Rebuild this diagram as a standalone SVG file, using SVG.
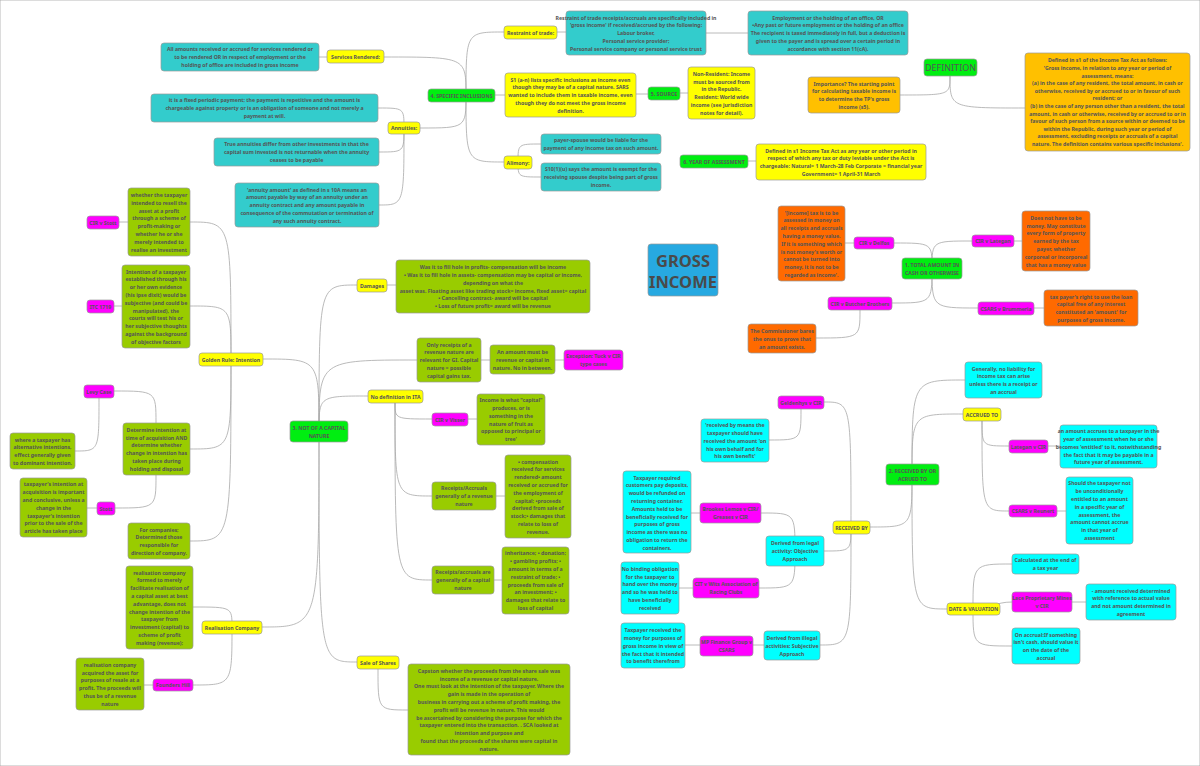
<svg xmlns="http://www.w3.org/2000/svg" width="1200" height="766" viewBox="0 0 1200 766">
<style>
rect{stroke:#9a9a9a;stroke-width:0.7}
.t{fill:#33CCCC}.y{fill:#FFFF00}.g{fill:#00EE11}.l{fill:#99CC00}.m{fill:#FF00FF}.o{fill:#FF6A00}.a{fill:#FFC000}.c{fill:#00FFFF}.b{fill:#27A9E1}
text{font-family:"Noto Sans","Open Sans",sans-serif;font-size:5.2px;font-weight:bold;fill:#555;text-anchor:middle}
#conn path{fill:none;stroke:#a8a8a8;stroke-width:0.8}
</style>
<rect x="0" y="0" width="1200" height="766" fill="#fff" stroke="none"/>
<g id="conn">
<path d="M466 95 C466 32 466 32 504 32M466 95 L505 95M466 95 C466 162 466 162 504 162M466 95 C466 57 466 57 384 57M466 95 C466 128 466 128 420 128"/>
<path d="M557 32H566M706 33H748M636 94H648M680 93H688M319 57H327M748 161H756"/>
<path d="M404 128 C404 108 404 108 378 108M404 128 C404 152 404 152 379 152M404 128 C404 205 404 205 379 205"/>
<path d="M518 162 C518 144 518 144 541 144M518 162 C518 177 518 177 541 177"/>
<path d="M950 76 C950 95 950 95 900 95M950 76 C950 108 950 108 1025 108"/>
<path d="M932 268 C932 243 932 243 894 243M932 268 C932 241 932 241 972 241M932 268 C932 303 932 303 892 303M932 268 C932 308 932 308 978 308"/>
<path d="M845 243H854M1014 241H1022M1034 308H1044M860 310 C860 338 860 338 816 338"/>
<path d="M912 474 C912 380 912 380 965 380M912 474 C912 414 912 414 963 414M912 474 C912 609 912 609 947 609M912 474 C912 527 912 527 870 527"/>
<path d="M982 421 C982 446 982 446 1009 446M982 421 C982 511 982 511 1009 511M1048 446H1060M1057 511H1066"/>
<path d="M973 609 C973 564 973 564 1012 564M973 609 C990 609 995 602 1012 602M973 609 C973 646 973 646 1012 646M1072 602H1086"/>
<path d="M851 527 C851 402 851 402 824 402M851 527 C851 551 851 551 824 551M851 527 C851 645 851 645 820 645M801 409 C801 440 801 440 769 440"/>
<path d="M795 551 C795 513 795 513 761 513M795 551 C795 588 795 588 759 588M691 513H700M679 588H693M753 645H764M685 645H700"/>
<path d="M319 431 C319 359 319 359 263 359M319 431 C319 285 319 285 357 285M319 431 C319 360 319 360 417 360M319 431 C319 396 319 396 368 396M319 431 C319 627 319 627 262 627M319 431 C319 662 319 662 357 662"/>
<path d="M231 359 C231 222 231 222 190 222M231 359 C231 306 231 306 190 306M231 359 C231 449 231 449 190 449M231 359 C231 541 231 541 190 541M119 222H128M114 306H122"/>
<path d="M156 423 C156 391 156 391 114 391M99 398 C99 451 99 451 75 451M156 475 C156 508 156 508 115 508M87 508H97"/>
<path d="M232 627 C232 607 232 607 193 607M232 627 C232 685 232 685 193 685M144 685H153"/>
<path d="M387 285H396M481 360H490M555 360H564M395 403 C395 419 395 419 432 419M395 403 C395 496 395 496 432 496M395 403 C395 580 395 580 432 580M468 419H477M496 496H505M494 580H502M378 669 C378 710 378 710 408 710"/>
</g>

<g id="n-all-amounts"><rect class="t" x="161" y="43" width="158" height="28" rx="3"/><text y="51.4"><tspan x="240">All amounts received or accrued for services rendered or</tspan><tspan x="240" dy="7.8">to be rendered OR in respect of employment or the</tspan><tspan x="240" dy="7.8">holding of office are included in gross income</tspan></text></g>
<g id="n-services"><rect class="y" x="327" y="50" width="57" height="13" rx="3"/><text x="355.5" y="58.5">Services Rendered:</text></g>
<g id="n-specific"><rect class="g" x="428" y="89" width="67" height="13" rx="3"/><text x="461.5" y="97.5">4. SPECIFIC INCLUSIONS</text></g>
<g id="n-restraint"><rect class="y" x="504" y="26" width="53" height="13" rx="3"/><text x="530.5" y="34.5">Restraint of trade:</text></g>
<g id="n-restraint-t"><rect class="t" x="566" y="11" width="140" height="44" rx="3"/><text y="19.6"><tspan x="636">Restraint of trade receipts/accruals are specifically included in</tspan><tspan x="636" dy="7.8">'gross income' if received/accrued by the following:</tspan><tspan x="636" dy="7.8">Labour broker,</tspan><tspan x="636" dy="7.8">Personal service provider;</tspan><tspan x="636" dy="7.8">Personal service company or personal service trust</tspan></text></g>
<g id="n-employment"><rect class="t" x="748" y="11" width="160" height="44" rx="3"/><text y="19.6"><tspan x="828">Employment or the holding of an office, OR</tspan><tspan x="828" dy="7.8">•Any past or future employment or the holding of an office</tspan><tspan x="828" dy="7.8">The recipient is taxed immediately in full, but a deduction is</tspan><tspan x="828" dy="7.8">given to the payer and is spread over a certain period in</tspan><tspan x="828" dy="7.8">accordance with section 11(cA).</tspan></text></g>
<g id="n-s1"><rect class="y" x="505" y="73" width="131" height="44" rx="3"/><text y="81.6"><tspan x="570.5">S1 (a-n) lists specific inclusions as income even</tspan><tspan x="570.5" dy="7.8">though they may be of a capital nature. SARS</tspan><tspan x="570.5" dy="7.8">wanted to include them in taxable income, even</tspan><tspan x="570.5" dy="7.8">though they do not meet the gross income</tspan><tspan x="570.5" dy="7.8">definition.</tspan></text></g>
<g id="n-source"><rect class="g" x="648" y="87" width="32" height="13" rx="3"/><text x="664" y="95.5">5. SOURCE</text></g>
<g id="n-source-t"><rect class="y" x="688" y="67" width="67" height="52" rx="3"/><text y="75.7"><tspan x="721.5">Non-Resident: Income</tspan><tspan x="721.5" dy="7.8">must be sourced from</tspan><tspan x="721.5" dy="7.8">in the Republic.</tspan><tspan x="721.5" dy="7.8">Resident: World wide</tspan><tspan x="721.5" dy="7.8">income (see jurisdiction</tspan><tspan x="721.5" dy="7.8">notes for detail).</tspan></text></g>
<g id="n-annuities"><rect class="y" x="388" y="122" width="32" height="12" rx="3"/><text x="404" y="130">Annuities:</text></g>
<g id="n-ann1"><rect class="t" x="151" y="94" width="227" height="28" rx="3"/><text y="102.4"><tspan x="264.5">it is a fixed periodic payment; the payment is repetitive and the amount is</tspan><tspan x="264.5" dy="7.8">chargeable against property or is an obligation of someone and not merely a</tspan><tspan x="264.5" dy="7.8">payment at will.</tspan></text></g>
<g id="n-ann2"><rect class="t" x="214" y="138" width="165" height="28" rx="3"/><text y="146.4"><tspan x="296.5">True annuities differ from other investments in that the</tspan><tspan x="296.5" dy="7.8">capital sum invested is not returnable when the annuity</tspan><tspan x="296.5" dy="7.8">ceases to be payable</tspan></text></g>
<g id="n-ann3"><rect class="t" x="235" y="183" width="144" height="44" rx="3"/><text y="191.6"><tspan x="307">'annuity amount' as defined in s 10A means an</tspan><tspan x="307" dy="7.8">amount payable by way of an annuity under an</tspan><tspan x="307" dy="7.8">annuity contract and any amount payable in</tspan><tspan x="307" dy="7.8">consequence of the commutation or termination of</tspan><tspan x="307" dy="7.8">any such annuity contract.</tspan></text></g>
<g id="n-alimony"><rect class="y" x="504" y="156" width="28" height="13" rx="3"/><text x="518" y="164.5">Alimony:</text></g>
<g id="n-ali1"><rect class="t" x="541" y="134" width="120" height="20" rx="3"/><text y="142.3"><tspan x="601">payer-spouse would be liable for the</tspan><tspan x="601" dy="7.8">payment of any income tax on such amount.</tspan></text></g>
<g id="n-ali2"><rect class="t" x="541" y="163" width="120" height="28" rx="3"/><text y="171.4"><tspan x="601">S10(1)(u) says the amount is exempt for the</tspan><tspan x="601" dy="7.8">receiving spouse despite being part of gross</tspan><tspan x="601" dy="7.8">income.</tspan></text></g>
<g id="n-year"><rect class="g" x="680" y="155" width="68" height="13" rx="3"/><text x="714" y="163.5">6. YEAR OF ASSESSMENT</text></g>
<g id="n-year-t"><rect class="y" x="756" y="144" width="170" height="36" rx="3"/><text y="152.5"><tspan x="841">Defined in s1 Income Tax Act as any year or other period in</tspan><tspan x="841" dy="7.8">respect of which any tax or duty leviable under the Act is</tspan><tspan x="841" dy="7.8">chargeable: Natural= 1 March-28 Feb Corporate = financial year</tspan><tspan x="841" dy="7.8">Government= 1 April-31 March</tspan></text></g>
<g id="n-definition"><rect class="g" x="924" y="59" width="53" height="17" rx="3"/><text x="950.5" y="70.8" style="font-size:9px;font-weight:normal">DEFINITION</text></g>
<g id="n-importance"><rect class="a" x="808" y="77" width="92" height="36" rx="3"/><text y="85.5"><tspan x="854">Importance? The starting point</tspan><tspan x="854" dy="7.8">for calculating taxable income is</tspan><tspan x="854" dy="7.8">to determine the TP's gross</tspan><tspan x="854" dy="7.8">income (s5).</tspan></text></g>
<g id="n-defined"><rect class="a" x="1025" y="53" width="165" height="98" rx="3"/><text y="62.4"><tspan x="1107.5">Defined in s1 of the Income Tax Act as follows:</tspan><tspan x="1107.5" dy="7.6">'Gross income, in relation to any year or period of</tspan><tspan x="1107.5" dy="7.6">assessment, means:</tspan><tspan x="1107.5" dy="7.6">(a) in the case of any resident, the total amount, in cash or</tspan><tspan x="1107.5" dy="7.6">otherwise, received by or accrued to or in favour of such</tspan><tspan x="1107.5" dy="7.6">resident; or</tspan><tspan x="1107.5" dy="7.6">(b) in the case of any person other than a resident, the total</tspan><tspan x="1107.5" dy="7.6">amount, in cash or otherwise, received by or accrued to or in</tspan><tspan x="1107.5" dy="7.6">favour of such person from a source within or deemed to be</tspan><tspan x="1107.5" dy="7.6">within the Republic, during such year or period of</tspan><tspan x="1107.5" dy="7.6">assessment, excluding receipts or accruals of a capital</tspan><tspan x="1107.5" dy="7.6">nature. The definition contains various specific inclusions'.</tspan></text></g>

<g id="n-gross"><rect class="b" x="648" y="244" width="70" height="52" rx="3"/><text y="267" style="font-size:16.5px;font-weight:bold;fill:#4a4a4a"><tspan x="683">GROSS</tspan><tspan x="683" dy="21">INCOME</tspan></text></g>
<g id="n-total"><rect class="g" x="902" y="258" width="60" height="21" rx="3"/><text y="266.8"><tspan x="932">1. TOTAL AMOUNT IN</tspan><tspan x="932" dy="7.8">CASH OR OTHERWISE</tspan></text></g>
<g id="n-delfos"><rect class="m" x="854" y="237" width="40" height="12" rx="3"/><text x="874" y="245">CIR v Delfos</text></g>
<g id="n-delfos-t"><rect class="o" x="778" y="206" width="67" height="75" rx="3"/><text y="214.5"><tspan x="811.5">'[income] tax is to be</tspan><tspan x="811.5" dy="7.8">assessed in money on</tspan><tspan x="811.5" dy="7.8">all receipts and accruals</tspan><tspan x="811.5" dy="7.8">having a money value.</tspan><tspan x="811.5" dy="7.8">If it is something which</tspan><tspan x="811.5" dy="7.8">is not money's worth or</tspan><tspan x="811.5" dy="7.8">cannot be turned into</tspan><tspan x="811.5" dy="7.8">money, it is not to be</tspan><tspan x="811.5" dy="7.8">regarded as income'.</tspan></text></g>
<g id="n-lategan"><rect class="m" x="972" y="235" width="42" height="12" rx="3"/><text x="993" y="243">CIR v Lategan</text></g>
<g id="n-lategan-t"><rect class="o" x="1022" y="211" width="68" height="60" rx="3"/><text y="219.8"><tspan x="1056">Does not have to be</tspan><tspan x="1056" dy="7.8">money. May constitute</tspan><tspan x="1056" dy="7.8">every form of property</tspan><tspan x="1056" dy="7.8">earned by the tax</tspan><tspan x="1056" dy="7.8">payer, whether</tspan><tspan x="1056" dy="7.8">corporeal or incorporeal</tspan><tspan x="1056" dy="7.8">that has a money value</tspan></text></g>
<g id="n-butcher"><rect class="m" x="828" y="297" width="64" height="13" rx="3"/><text x="860" y="305.5">CIR v Butcher Brothers</text></g>
<g id="n-butcher-t"><rect class="o" x="748" y="324" width="68" height="29" rx="3"/><text y="332.9"><tspan x="782">The Commissioner bares</tspan><tspan x="782" dy="7.8">the onus to prove that</tspan><tspan x="782" dy="7.8">an amount exists.</tspan></text></g>
<g id="n-brummeria"><rect class="m" x="978" y="302" width="56" height="13" rx="3"/><text x="1006" y="310.5">CSARS v Brummeria</text></g>
<g id="n-brummeria-t"><rect class="o" x="1044" y="290" width="94" height="36" rx="3"/><text y="298.5"><tspan x="1091">tax payer's right to use the loan</tspan><tspan x="1091" dy="7.8">capital free of any interest</tspan><tspan x="1091" dy="7.8">constituted an 'amount' for</tspan><tspan x="1091" dy="7.8">purposes of gross income.</tspan></text></g>

<g id="n-received"><rect class="g" x="886" y="464" width="53" height="21" rx="3"/><text y="472.8"><tspan x="912.5">2. RECEIVED BY OR</tspan><tspan x="912.5" dy="7.8">ACRUED TO</tspan></text></g>
<g id="n-generally"><rect class="c" x="965" y="362" width="77" height="36" rx="3"/><text y="370.5"><tspan x="1003.5">Generally, no liability for</tspan><tspan x="1003.5" dy="7.8">income tax can arise</tspan><tspan x="1003.5" dy="7.8">unless there is a receipt or</tspan><tspan x="1003.5" dy="7.8">an accrual</tspan></text></g>
<g id="n-accrued"><rect class="y" x="963" y="408" width="38" height="13" rx="3"/><text x="982" y="416.5">ACCRUED TO</text></g>
<g id="n-lategan2"><rect class="m" x="1009" y="440" width="39" height="13" rx="3"/><text x="1028.5" y="448.5">Lategan v CIR</text></g>
<g id="n-lategan2-t"><rect class="c" x="1060" y="425" width="97" height="43" rx="3"/><text y="433.1"><tspan x="1108.5">an amount accrues to a taxpayer in the</tspan><tspan x="1108.5" dy="7.8">year of assessment when he or she</tspan><tspan x="1108.5" dy="7.8">becomes 'entitled' to it, notwithstanding</tspan><tspan x="1108.5" dy="7.8">the fact that it may be payable in a</tspan><tspan x="1108.5" dy="7.8">future year of assessment.</tspan></text></g>
<g id="n-reunert"><rect class="m" x="1009" y="505" width="48" height="12" rx="3"/><text x="1033" y="513">CSARS v Reunert</text></g>
<g id="n-reunert-t"><rect class="c" x="1066" y="477" width="67" height="67" rx="3"/><text y="485.4"><tspan x="1099.5">Should the taxpayer not</tspan><tspan x="1099.5" dy="7.8">be unconditionally</tspan><tspan x="1099.5" dy="7.8">entitled to an amount</tspan><tspan x="1099.5" dy="7.8">in a specific year of</tspan><tspan x="1099.5" dy="7.8">assessment, the</tspan><tspan x="1099.5" dy="7.8">amount cannot accrue</tspan><tspan x="1099.5" dy="7.8">in that year of</tspan><tspan x="1099.5" dy="7.8">assessment</tspan></text></g>
<g id="n-date"><rect class="y" x="947" y="603" width="53" height="12" rx="3"/><text x="973.5" y="611">DATE &amp; VALUATION</text></g>
<g id="n-calc"><rect class="c" x="1012" y="554" width="67" height="20" rx="3"/><text y="562.3"><tspan x="1045.5">Calculated at the end of</tspan><tspan x="1045.5" dy="7.8">a tax year</tspan></text></g>
<g id="n-lace"><rect class="m" x="1012" y="592" width="60" height="20" rx="3"/><text y="600.3"><tspan x="1042">Lace Proprietary Mines</tspan><tspan x="1042" dy="7.8">v CIR</tspan></text></g>
<g id="n-lace-t"><rect class="c" x="1086" y="584" width="90" height="36" rx="3"/><text y="592.5"><tspan x="1131">- amount received  determined</tspan><tspan x="1131" dy="7.8">with reference to actual value</tspan><tspan x="1131" dy="7.8">and not amount determined in</tspan><tspan x="1131" dy="7.8">agreement</tspan></text></g>
<g id="n-onaccrual"><rect class="c" x="1012" y="628" width="68" height="36" rx="3"/><text y="636.5"><tspan x="1046">On accrual:If something</tspan><tspan x="1046" dy="7.8">isn't cash, should value it</tspan><tspan x="1046" dy="7.8">on the date of the</tspan><tspan x="1046" dy="7.8">accrual</tspan></text></g>
<g id="n-receivedby"><rect class="y" x="833" y="521" width="37" height="13" rx="3"/><text x="851.5" y="529.5">RECEIVED BY</text></g>
<g id="n-geldenhys"><rect class="m" x="778" y="396" width="46" height="13" rx="3"/><text x="801" y="404.5">Geldenhys v CIR</text></g>
<g id="n-geldenhys-t"><rect class="c" x="701" y="419" width="68" height="43" rx="3"/><text y="427.1"><tspan x="735">'received by means the</tspan><tspan x="735" dy="7.8">taxpayer should have</tspan><tspan x="735" dy="7.8">received the amount 'on</tspan><tspan x="735" dy="7.8">his own behalf and for</tspan><tspan x="735" dy="7.8">his own benefit'</tspan></text></g>
<g id="n-legal"><rect class="c" x="766" y="536" width="58" height="30" rx="3"/><text y="545.4"><tspan x="795">Derived from legal</tspan><tspan x="795" dy="7.8">activity: Objective</tspan><tspan x="795" dy="7.8">Approach</tspan></text></g>
<g id="n-brookes"><rect class="m" x="700" y="503" width="61" height="20" rx="3"/><text y="511.3"><tspan x="730.5">Brookes Lemos v CIR/</tspan><tspan x="730.5" dy="7.8">Greases v CIR</tspan></text></g>
<g id="n-brookes-t"><rect class="c" x="623" y="471" width="68" height="82" rx="3"/><text y="479.6"><tspan x="657">Taxpayer required</tspan><tspan x="657" dy="7.8">customers pay deposits,</tspan><tspan x="657" dy="7.8">would be refunded on</tspan><tspan x="657" dy="7.8">returning container.</tspan><tspan x="657" dy="7.8">Amounts held to be</tspan><tspan x="657" dy="7.8">beneficially received for</tspan><tspan x="657" dy="7.8">purposes of gross</tspan><tspan x="657" dy="7.8">income as there was no</tspan><tspan x="657" dy="7.8">obligation to return the</tspan><tspan x="657" dy="7.8">containers.</tspan></text></g>
<g id="n-wits"><rect class="m" x="693" y="578" width="66" height="20" rx="3"/><text y="586.3"><tspan x="726">CIT v Wits Association of</tspan><tspan x="726" dy="7.8">Racing Clubs</tspan></text></g>
<g id="n-wits-t"><rect class="c" x="621" y="562" width="58" height="52" rx="3"/><text y="570.7"><tspan x="650">No binding obligation</tspan><tspan x="650" dy="7.8">for the taxpayer to</tspan><tspan x="650" dy="7.8">hand over the money</tspan><tspan x="650" dy="7.8">and so he was held to</tspan><tspan x="650" dy="7.8">have beneficially</tspan><tspan x="650" dy="7.8">received</tspan></text></g>
<g id="n-illegal"><rect class="c" x="764" y="631" width="56" height="29" rx="3"/><text y="639.9"><tspan x="792">Derived from illegal</tspan><tspan x="792" dy="7.8">activities: Subjective</tspan><tspan x="792" dy="7.8">Approach</tspan></text></g>
<g id="n-mp"><rect class="m" x="700" y="636" width="53" height="20" rx="3"/><text y="644.3"><tspan x="726.5">MP Finance Group v</tspan><tspan x="726.5" dy="7.8">CSARS</tspan></text></g>
<g id="n-mp-t"><rect class="c" x="621" y="623" width="64" height="45" rx="3"/><text y="632.1"><tspan x="653">Taxpayer received the</tspan><tspan x="653" dy="7.8">money for purposes of</tspan><tspan x="653" dy="7.8">gross income in view of</tspan><tspan x="653" dy="7.8">the fact that it intended</tspan><tspan x="653" dy="7.8">to benefit therefrom</tspan></text></g>

<g id="n-capital"><rect class="g" x="290" y="421" width="58" height="21" rx="3"/><text y="429.8"><tspan x="319">3. NOT OF A CAPITAL</tspan><tspan x="319" dy="7.8">NATURE</tspan></text></g>
<g id="n-golden"><rect class="y" x="199" y="353" width="64" height="13" rx="3"/><text x="231" y="361.5">Golden Rule: Intention</text></g>
<g id="n-cirstott"><rect class="m" x="87" y="216" width="32" height="13" rx="3"/><text x="103" y="224.5">CIR v Stott</text></g>
<g id="n-cirstott-t"><rect class="l" x="128" y="188" width="62" height="68" rx="3"/><text y="196.9"><tspan x="159">whether the taxpayer</tspan><tspan x="159" dy="7.8">intended to resell the</tspan><tspan x="159" dy="7.8">asset at a profit</tspan><tspan x="159" dy="7.8">through a scheme of</tspan><tspan x="159" dy="7.8">profit-making or</tspan><tspan x="159" dy="7.8">whether he or she</tspan><tspan x="159" dy="7.8">merely intended to</tspan><tspan x="159" dy="7.8">realise an investment</tspan></text></g>
<g id="n-itc"><rect class="m" x="87" y="300" width="27" height="13" rx="3"/><text x="100.5" y="308.5">ITC 1719</text></g>
<g id="n-itc-t"><rect class="l" x="122" y="265" width="68" height="83" rx="3"/><text y="273.6"><tspan x="156">Intention of a taxpayer</tspan><tspan x="156" dy="7.8">established through his</tspan><tspan x="156" dy="7.8">or her own evidence</tspan><tspan x="156" dy="7.8">(his ipse dixit) would be</tspan><tspan x="156" dy="7.8">subjective (and could be</tspan><tspan x="156" dy="7.8">manipulated), the</tspan><tspan x="156" dy="7.8">courts will test his or</tspan><tspan x="156" dy="7.8">her subjective thoughts</tspan><tspan x="156" dy="7.8">against the background</tspan><tspan x="156" dy="7.8">of objective factors</tspan></text></g>
<g id="n-levy"><rect class="m" x="84" y="385" width="30" height="13" rx="3"/><text x="99" y="393.5">Levy Case</text></g>
<g id="n-levy-t"><rect class="l" x="10" y="433" width="65" height="36" rx="3"/><text y="441.5"><tspan x="42.5">where a taxpayer has</tspan><tspan x="42.5" dy="7.8">alternative intentions,</tspan><tspan x="42.5" dy="7.8">effect generally given</tspan><tspan x="42.5" dy="7.8">to dominant intention.</tspan></text></g>
<g id="n-determine"><rect class="l" x="123" y="423" width="67" height="52" rx="3"/><text y="431.7"><tspan x="156.5">Determine intention at</tspan><tspan x="156.5" dy="7.8">time of acquisition AND</tspan><tspan x="156.5" dy="7.8">determine whether</tspan><tspan x="156.5" dy="7.8">change in intention has</tspan><tspan x="156.5" dy="7.8">taken place during</tspan><tspan x="156.5" dy="7.8">holding and disposal</tspan></text></g>
<g id="n-stott"><rect class="m" x="97" y="502" width="18" height="13" rx="3"/><text x="106" y="510.5">Stott</text></g>
<g id="n-stott-t"><rect class="l" x="20" y="478" width="67" height="59" rx="3"/><text y="486.3"><tspan x="53.5">taxpayer's intention at</tspan><tspan x="53.5" dy="7.8">acquisition is important</tspan><tspan x="53.5" dy="7.8">and conclusive, unless a</tspan><tspan x="53.5" dy="7.8">change in the</tspan><tspan x="53.5" dy="7.8">taxpayer's intention</tspan><tspan x="53.5" dy="7.8">prior to the sale of the</tspan><tspan x="53.5" dy="7.8">article has taken place</tspan></text></g>
<g id="n-companies"><rect class="l" x="128" y="523" width="62" height="36" rx="3"/><text y="531.5"><tspan x="159">For companies;</tspan><tspan x="159" dy="7.8">Determined those</tspan><tspan x="159" dy="7.8">responsible for</tspan><tspan x="159" dy="7.8">direction of company.</tspan></text></g>
<g id="n-realisation"><rect class="y" x="202" y="621" width="60" height="13" rx="3"/><text x="232" y="629.5">Realisation Company</text></g>
<g id="n-realisation-t"><rect class="l" x="126" y="566" width="67" height="83" rx="3"/><text y="574.6"><tspan x="159.5">realisation company</tspan><tspan x="159.5" dy="7.8">formed to merely</tspan><tspan x="159.5" dy="7.8">facilitate realisation of</tspan><tspan x="159.5" dy="7.8">a capital asset at best</tspan><tspan x="159.5" dy="7.8">advantage, does not</tspan><tspan x="159.5" dy="7.8">change intention of the</tspan><tspan x="159.5" dy="7.8">taxpayer from</tspan><tspan x="159.5" dy="7.8">investment (capital) to</tspan><tspan x="159.5" dy="7.8">scheme of profit</tspan><tspan x="159.5" dy="7.8">making (revenue);</tspan></text></g>
<g id="n-founders"><rect class="m" x="153" y="679" width="40" height="12" rx="3"/><text x="173" y="687">Founders Hill</text></g>
<g id="n-founders-t"><rect class="l" x="76" y="658" width="68" height="52" rx="3"/><text y="666.7"><tspan x="110">realisation company</tspan><tspan x="110" dy="7.8">acquired the asset for</tspan><tspan x="110" dy="7.8">purposes of resale at a</tspan><tspan x="110" dy="7.8">profit. The proceeds will</tspan><tspan x="110" dy="7.8">thus be of a revenue</tspan><tspan x="110" dy="7.8">nature</tspan></text></g>
<g id="n-damages"><rect class="y" x="357" y="279" width="30" height="13" rx="3"/><text x="372" y="287.5">Damages</text></g>
<g id="n-damages-t"><rect class="l" x="396" y="260" width="194" height="53" rx="3"/><text y="269.2"><tspan x="493">Was it to fill hole in profits- compensation will be income</tspan><tspan x="493" dy="7.8">• Was it to fill hole in assets- compensation may be capital or income,</tspan><tspan x="493" dy="7.8">depending on what the</tspan><tspan x="493" dy="7.8">asset was. Floating asset like trading stock= income, fixed asset= capital</tspan><tspan x="493" dy="7.8">• Cancelling contract- award will be capital</tspan><tspan x="493" dy="7.8">• Loss of future profit= award will be revenue</tspan></text></g>
<g id="n-only"><rect class="l" x="417" y="338" width="64" height="44" rx="3"/><text y="346.6"><tspan x="449">Only receipts of a</tspan><tspan x="449" dy="7.8">revenue nature are</tspan><tspan x="449" dy="7.8">relevant for GI. Capital</tspan><tspan x="449" dy="7.8">nature = possible</tspan><tspan x="449" dy="7.8">capital gains tax.</tspan></text></g>
<g id="n-amount"><rect class="l" x="490" y="345" width="65" height="29" rx="3"/><text y="353.9"><tspan x="522.5">An amount must be</tspan><tspan x="522.5" dy="7.8">revenue or capital in</tspan><tspan x="522.5" dy="7.8">nature. No in between.</tspan></text></g>
<g id="n-tuck"><rect class="m" x="564" y="350" width="59" height="20" rx="3"/><text y="358.3"><tspan x="593.5">Exception: Tuck v CIR</tspan><tspan x="593.5" dy="7.8">type cases</tspan></text></g>
<g id="n-nodef"><rect class="y" x="368" y="390" width="55" height="13" rx="3"/><text x="395.5" y="398.5">No definition in ITA</text></g>
<g id="n-visser"><rect class="m" x="432" y="413" width="36" height="13" rx="3"/><text x="450" y="421.5">CIR v Visser</text></g>
<g id="n-visser-t"><rect class="l" x="477" y="394" width="68" height="51" rx="3"/><text y="402.2"><tspan x="511">Income is what "capital"</tspan><tspan x="511" dy="7.8">produces, or is</tspan><tspan x="511" dy="7.8">something in the</tspan><tspan x="511" dy="7.8">nature of fruit as</tspan><tspan x="511" dy="7.8">opposed to principal or</tspan><tspan x="511" dy="7.8">tree'</tspan></text></g>
<g id="n-reva"><rect class="l" x="432" y="482" width="64" height="28" rx="3"/><text y="490.4"><tspan x="464">Receipts/Accruals</tspan><tspan x="464" dy="7.8">generally of a revenue</tspan><tspan x="464" dy="7.8">nature</tspan></text></g>
<g id="n-reva-t"><rect class="l" x="505" y="455" width="66" height="83" rx="3"/><text y="463.6"><tspan x="538">• compensation</tspan><tspan x="538" dy="7.8">received for services</tspan><tspan x="538" dy="7.8">rendered• amount</tspan><tspan x="538" dy="7.8">received or accrued for</tspan><tspan x="538" dy="7.8">the employment of</tspan><tspan x="538" dy="7.8">capital; •proceeds</tspan><tspan x="538" dy="7.8">derived from sale of</tspan><tspan x="538" dy="7.8">stock;• damages that</tspan><tspan x="538" dy="7.8">relate to loss of</tspan><tspan x="538" dy="7.8">revenue.</tspan></text></g>
<g id="n-capa"><rect class="l" x="432" y="566" width="62" height="28" rx="3"/><text y="574.4"><tspan x="463">Receipts/accruals are</tspan><tspan x="463" dy="7.8">generally of a capital</tspan><tspan x="463" dy="7.8">nature</tspan></text></g>
<g id="n-capa-t"><rect class="l" x="502" y="547" width="67" height="67" rx="3"/><text y="555.4"><tspan x="535.5">inheritance; • donation;</tspan><tspan x="535.5" dy="7.8">• gambling profits; •</tspan><tspan x="535.5" dy="7.8">amount in terms of a</tspan><tspan x="535.5" dy="7.8">restraint of trade; •</tspan><tspan x="535.5" dy="7.8">proceeds from sale of</tspan><tspan x="535.5" dy="7.8">an investment; •</tspan><tspan x="535.5" dy="7.8">damages that relate to</tspan><tspan x="535.5" dy="7.8">loss of capital</tspan></text></g>
<g id="n-shares"><rect class="y" x="357" y="656" width="42" height="13" rx="3"/><text x="378" y="664.5">Sale of Shares</text></g>
<g id="n-shares-t"><rect class="l" x="408" y="664" width="162" height="91" rx="3"/><text y="672.7"><tspan x="489">Capston whether the proceeds from the share sale was</tspan><tspan x="489" dy="7.8">income of a revenue or capital nature.</tspan><tspan x="489" dy="7.8">One must look at the intention of the taxpayer. Where the</tspan><tspan x="489" dy="7.8">gain is made in the operation of</tspan><tspan x="489" dy="7.8">business in carrying out a scheme of profit making, the</tspan><tspan x="489" dy="7.8">profit will be revenue in nature. This would</tspan><tspan x="489" dy="7.8">be ascertained by considering the purpose for which the</tspan><tspan x="489" dy="7.8">taxpayer entered into the transaction. . SCA looked at</tspan><tspan x="489" dy="7.8">intention and purpose and</tspan><tspan x="489" dy="7.8">found that the proceeds of the shares were capital in</tspan><tspan x="489" dy="7.8">nature.</tspan></text></g>
</svg>
